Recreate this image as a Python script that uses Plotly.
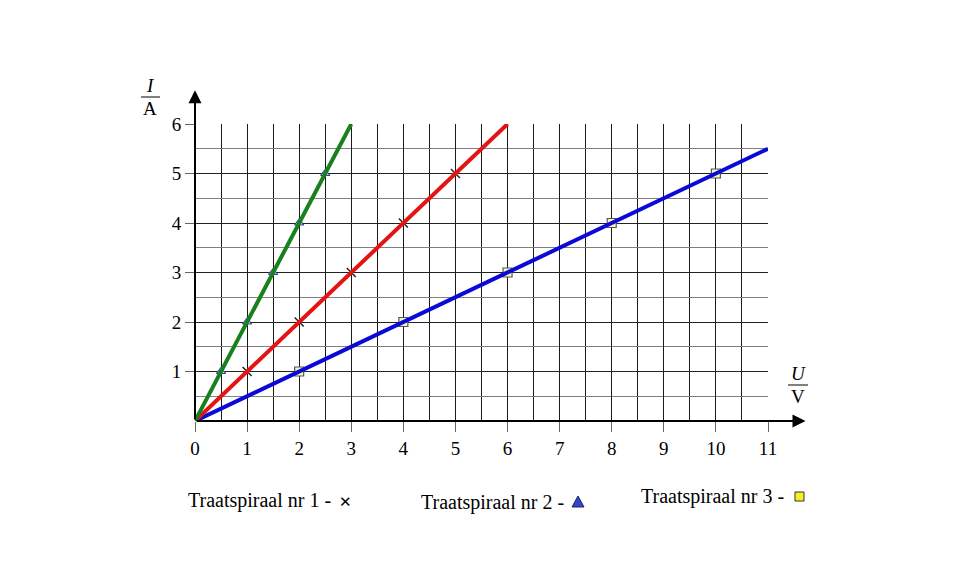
import plotly.graph_objects as go

# Data
U1 = [1, 2, 3, 4, 5]
I1 = [1, 2, 3, 4, 5]
U2 = [0.5, 1, 1.5, 2, 2.5]
I2 = [1, 2, 3, 4, 5]
U3 = [2, 4, 6, 8, 10]
I3 = [1, 2, 3, 4, 5]

line1_U = [0, 6]
line1_I = [0, 6]
line2_U = [0, 3]
line2_I = [0, 6]
line3_U = [0, 11]
line3_I = [0, 5.5]

x_ticks = list(range(0, 12))
y_ticks = list(range(1, 7))

legend_labels = ["Traatspiraal nr 1 - ", "Traatspiraal nr 2 - ", "Traatspiraal nr 3 - "]

SERIF = "Liberation Serif, Times New Roman, serif"

W, H = 956, 583
L, R, T, B = 195, 188, 124, 162
pw, ph = W - L - R, H - T - B


def px(xp):
    return (xp - L) / pw


def py(yp):
    return (H - B - yp) / ph


fig = go.Figure()

# markers (under lines)
fig.add_trace(go.Scatter(x=U2, y=I2, mode="markers",
                         marker=dict(symbol="triangle-up", size=8, color="#c8ccf0",
                                     line=dict(width=1.2, color="#3344aa")),
                         showlegend=False, cliponaxis=False))
fig.add_trace(go.Scatter(x=U1, y=I1, mode="markers",
                         marker=dict(symbol="x-thin", size=9,
                                     line=dict(width=1.5, color="#222222")),
                         showlegend=False, cliponaxis=False))
fig.add_trace(go.Scatter(x=U3, y=I3, mode="markers",
                         marker=dict(symbol="square", size=9, color="#f7f5c0",
                                     line=dict(width=1.2, color="#555555")),
                         showlegend=False, cliponaxis=False))

# lines
fig.add_trace(go.Scatter(x=line3_U, y=line3_I, mode="lines",
                         line=dict(color="#0a0ad8", width=4), showlegend=False, cliponaxis=False))
fig.add_trace(go.Scatter(x=line1_U, y=line1_I, mode="lines",
                         line=dict(color="#e41414", width=4), showlegend=False, cliponaxis=False))
fig.add_trace(go.Scatter(x=line2_U, y=line2_I, mode="lines",
                         line=dict(color="#18801c", width=4), showlegend=False, cliponaxis=False))

fig.update_layout(
    width=W, height=H,
    margin=dict(l=L, r=R, t=T, b=B),
    paper_bgcolor="white", plot_bgcolor="white",
    font=dict(family=SERIF, size=19, color="black"),
    showlegend=False,
    xaxis=dict(range=[0, 11], tickvals=x_ticks, ticktext=[str(v) for v in x_ticks],
               showgrid=True, gridcolor="#1a1a1a", gridwidth=1,
               minor=dict(dtick=0.5, showgrid=True, gridcolor="#1a1a1a", gridwidth=1),
               zeroline=False, showline=False,
               ticks="outside", ticklen=10, tickcolor="#666666", tickwidth=1,
               tickfont=dict(family=SERIF, size=19)),
    yaxis=dict(range=[0, 6], tickvals=y_ticks, ticktext=[str(v) for v in y_ticks],
               showgrid=True, gridcolor="#222222", gridwidth=1,
               minor=dict(dtick=0.5, showgrid=True, gridcolor="#808080", gridwidth=1),
               zeroline=False, showline=False,
               ticks="outside", ticklen=9, tickcolor="#666666", tickwidth=1,
               tickfont=dict(family=SERIF, size=19)),
)

# axis arrows
fig.add_annotation(x=0, y=6.68, xref="x", yref="y", ax=0, ay=0, axref="x", ayref="y",
                   text="", showarrow=True, arrowhead=2, arrowsize=1.3, arrowwidth=2, arrowcolor="black")
fig.add_annotation(x=11.72, y=0, xref="x", yref="y", ax=0, ay=0, axref="x", ayref="y",
                   text="", showarrow=True, arrowhead=2, arrowsize=1.3, arrowwidth=2, arrowcolor="black")


def label(xp, yp, text, size=19, family=SERIF, xanchor="center", color="black"):
    fig.add_annotation(x=px(xp), y=py(yp), xref="paper", yref="paper", text=text, showarrow=False,
                       xanchor=xanchor, yanchor="middle",
                       font=dict(family=family, size=size, color=color))


# axis labels as fractions
label(150, 85, "<i>I</i>")
label(150, 108, "A")
label(798, 373, "<i>U</i>")
label(798, 396, "V")

fig.add_shape(type="line", xref="paper", yref="paper", x0=px(141), x1=px(160), y0=py(97), y1=py(97),
              line=dict(color="black", width=1))
fig.add_shape(type="line", xref="paper", yref="paper", x0=px(788), x1=px(808), y0=py(385), y1=py(385),
              line=dict(color="black", width=1))

# custom legend
leg_pos = [(186, 500), (419, 502), (639, 496)]
for (xp, yp), lab in zip(leg_pos, legend_labels):
    label(xp, yp, lab, size=20, xanchor="left")

label(345, 502, "<b>\u2715</b>", size=15, family="DejaVu Sans")
fig.add_shape(type="path", xref="paper", yref="paper",
              path=f"M {px(572)} {py(507)} L {px(584)} {py(507)} L {px(578)} {py(496)} Z",
              fillcolor="#3344cc", line=dict(color="#222266", width=1))
fig.add_shape(type="rect", xref="paper", yref="paper", x0=px(795), x1=px(804), y0=py(501), y1=py(492),
              fillcolor="#f5f020", line=dict(color="#333333", width=1))

fig.write_html("out.html")
